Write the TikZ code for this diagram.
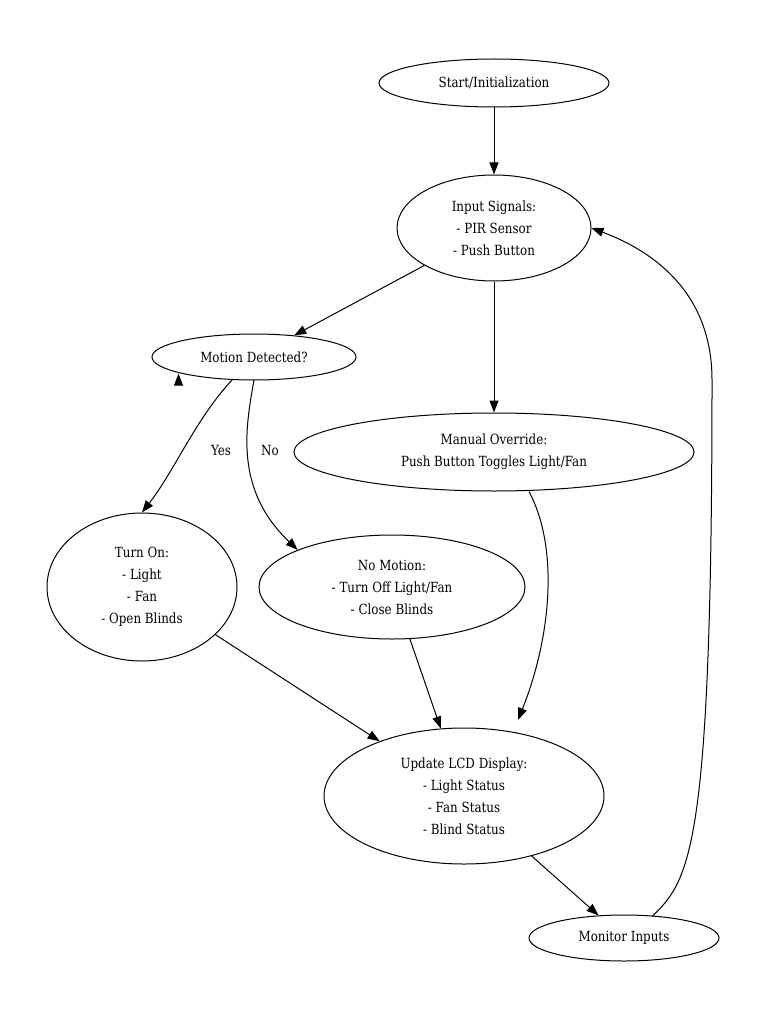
\documentclass[tikz,border=0pt]{standalone}
\usepackage{fontspec}
\setmainfont{DejaVu Serif}
\usetikzlibrary{shapes.geometric,arrows.meta}
\tikzset{
	state/.style={draw, ellipse, line width=1pt, inner sep=0pt, align=center,
		font=\fontsize{14}{22}\selectfont\addfontfeatures{FakeStretch=0.85}},
	flow/.style={draw, line width=1pt, -{Triangle[length=12pt,width=9pt]}},
	lbl/.style={font=\fontsize{14}{22}\selectfont\addfontfeatures{FakeStretch=0.85}}
}
\begin{document}
\begin{tikzpicture}[x=1pt,y=-1pt]
	\useasboundingbox (0,0) rectangle (768,1024);
	\node[state, minimum width=230pt, minimum height=48pt] (start) at (494,83) {Start/Initialization};
	\node[state, minimum width=194pt, minimum height=106pt] (input) at (494,228) {Input Signals:\\- PIR Sensor\\- Push Button};
	\node[state, minimum width=204pt, minimum height=46pt] (motion) at (254,357) {Motion Detected?};
	\node[state, minimum width=400pt, minimum height=78pt] (manual) at (494,452) {Manual Override:\\Push Button Toggles Light/Fan};
	\node[state, minimum width=190pt, minimum height=148pt] (turnon) at (142,587) {Turn On:\\- Light\\- Fan\\- Open Blinds};
	\node[state, minimum width=266pt, minimum height=104pt] (nomotion) at (392,587) {No Motion:\\- Turn Off Light/Fan\\- Close Blinds};
	\node[state, minimum width=280pt, minimum height=136pt] (update) at (464,796) {Update LCD Display:\\- Light Status\\- Fan Status\\- Blind Status};
	\node[state, minimum width=190pt, minimum height=46pt] (monitor) at (624,938) {Monitor Inputs};

	\draw[flow] (start) -- (input);
	\draw[flow] (input) -- (motion);
	\draw[flow] (input) -- (manual);
	\draw[flow] (motion.south west) ++(-3,0) coordinate (m1);
	\draw[flow] (232,380) .. controls (195,420) and (175,470) .. (turnon.north);
	\draw[flow] (254,380) .. controls (245,430) and (235,490) .. (nomotion.north west);
	\node[lbl] (yes) at (221,450) {Yes};
	\node[lbl] (no) at (270,450) {No};
	\draw[flow] (manual.south) ++(35,0) .. controls (560,550) and (550,640) .. (518,720);
	\draw[flow] (turnon) -- (update);
	\draw[flow] (nomotion) -- (update);
	\draw[flow] (update) -- (monitor);
	\draw[flow] (monitor.north) ++(28,2) .. controls (690,880) and (712,850) .. (712,380)
		.. controls (712,290) and (650,250) .. (input.east);
\end{tikzpicture}
\end{document}
